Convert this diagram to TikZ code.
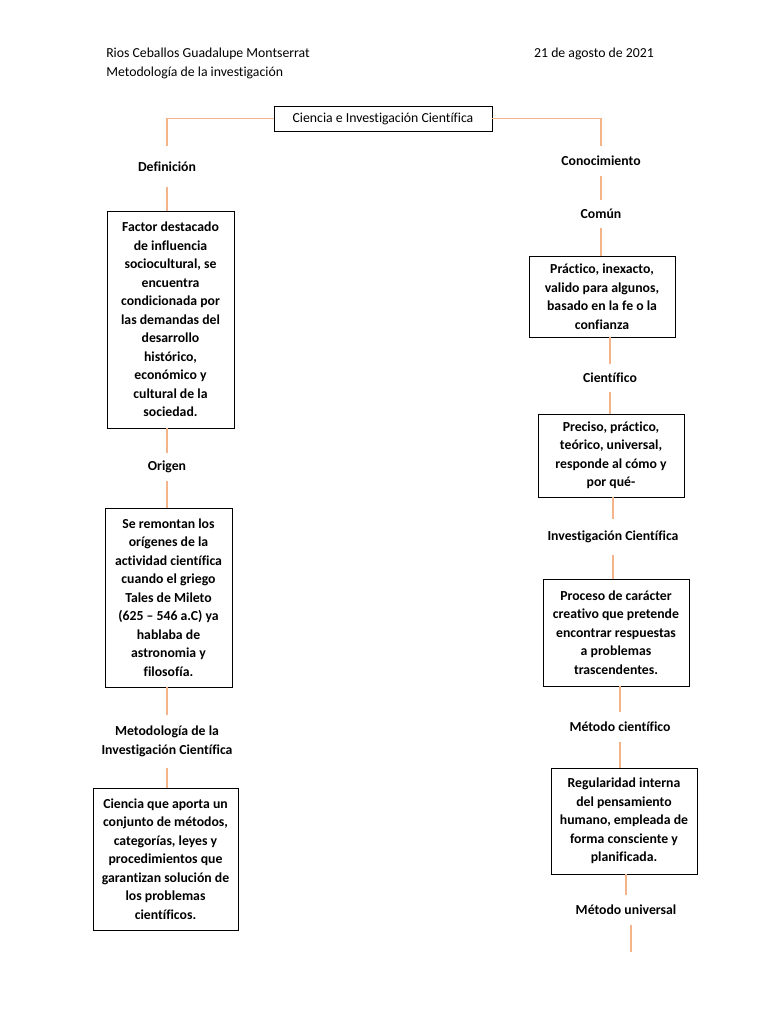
\documentclass[tikz,border=0pt]{standalone}
\usepackage{fontspec}
\setmainfont[Ligatures=NoCommon]{Carlito}
\definecolor{linkorange}{RGB}{244,180,138}

\begin{document}
\begin{tikzpicture}[x=0.8pt, y=-0.8pt,
                textbox/.style={draw, line width=0.7pt, align=center, inner sep=0pt,
                                font=\bfseries\fontsize{11}{14.8}\selectfont},
                boxsize/.style 2 args={minimum width=#1*0.8pt, minimum height=#2*0.8pt},
                topic/.style={align=center, inner sep=0pt, minimum height=#1*0.8pt,
                              font=\bfseries\fontsize{11}{14.8}\selectfont},
                plain/.style={inner sep=0pt, font=\fontsize{11}{14.8}\selectfont},
                link/.style={draw=linkorange, line width=0.9pt}]

                \useasboundingbox (0,0) rectangle (768,1024);

                % Header
                \node[plain, anchor=west] (autor) at (106,54) {Rios Ceballos Guadalupe Montserrat};
                \node[plain, anchor=west] (materia) at (106,73) {Metodología de la investigación};
                \node[plain, anchor=east] (fecha) at (654,54) {21 de agosto de 2021};

                % Title
                \node[draw, line width=0.7pt, plain, boxsize={218}{25}] (titulo) at (383,118.5)
                    {Ciencia e Investigación Científica};

                % Left column
                \node[topic=41] (lDef) at (167,166.5) {Definición};
                \node[textbox, boxsize={127}{217}] (def) at (170.5,319.5) {Factor destacado\\de influencia\\sociocultural, se\\encuentra\\condicionada por\\las demandas del\\desarrollo\\histórico,\\económico y\\cultural de la\\sociedad.};
                \node[topic=28] (lOrig) at (167,467) {Origen};
                \node[textbox, boxsize={127}{179}] (orig) at (168.5,597.5) {Se remontan los\\orígenes de la\\actividad científica\\cuando el griego\\Tales de Mileto\\(625 – 546 a.C) ya\\hablaba de\\astronomia y\\filosofía.};
                \node[topic=53] (lMet) at (167,741.5) {Metodología de la\\Investigación Científica};
                \node[textbox, boxsize={145}{142}] (met) at (165.5,859) {Ciencia que aporta un\\conjunto de métodos,\\categorías, leyes y\\procedimientos que\\garantizan solución de\\los problemas\\científicos.};

                % Right column
                \node[topic=30] (lCon) at (601,161) {Conocimiento};
                \node[topic=28] (lCom) at (601,214) {Común};
                \node[textbox, boxsize={146}{81}] (comun) at (602,296.5) {Práctico, inexacto,\\valido para algunos,\\basado en la fe o la\\confianza};
                \node[topic=28] (lCie) at (610,378) {Científico};
                \node[textbox, boxsize={146}{83}] (cient) at (611,455.5) {Preciso, práctico,\\teórico, universal,\\responde al cómo y\\por qué-};
                \node[topic=36] (lInv) at (613,537) {Investigación Científica};
                \node[textbox, boxsize={146}{107}] (inv) at (616,632.5) {Proceso de carácter\\creativo que pretende\\encontrar respuestas\\a problemas\\trascendentes.};
                \node[topic=30] (lMc) at (620,727) {Método científico};
                \node[textbox, boxsize={146}{106}] (metc) at (624,821) {Regularidad interna\\del pensamiento\\humano, empleada de\\forma consciente y\\planificada.};
                \node[topic=30] (lMu) at (626,910) {Método universal};
                \coordinate (fin) at (631,952);

                % Links from the title
                \draw[link] (titulo.west) -| (lDef.north);
                \draw[link] (titulo.east) -| (lCon.north);

                % Left links
                \draw[link] (lDef.south) -- (lDef.south |- def.north);
                \draw[link] (def.south -| lOrig.north) -- (lOrig.north);
                \draw[link] (lOrig.south) -- (lOrig.south |- orig.north);
                \draw[link] (orig.south -| lMet.north) -- (lMet.north);
                \draw[link] (lMet.south) -- (lMet.south |- met.north);

                % Right links
                \draw[link] (lCon.south) -- (lCom.north);
                \draw[link] (lCom.south) -- (lCom.south |- comun.north);
                \draw[link] (comun.south -| lCie.north) -- (lCie.north);
                \draw[link] (lCie.south) -- (lCie.south |- cient.north);
                \draw[link] (cient.south -| lInv.north) -- (lInv.north);
                \draw[link] (lInv.south) -- (lInv.south |- inv.north);
                \draw[link] (inv.south -| lMc.north) -- (lMc.north);
                \draw[link] (lMc.south) -- (lMc.south |- metc.north);
                \draw[link] (metc.south -| lMu.north) -- (lMu.north);
                \draw[link] (lMu.south -| fin) -- (fin);
\end{tikzpicture}
\end{document}
